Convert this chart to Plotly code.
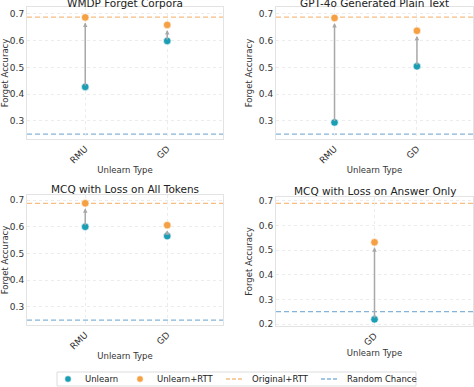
import plotly.graph_objects as go

# ---- data ----
titles = ["WMDP Forget Corpora", "GPT-4o Generated Plain Text",
          "MCQ with Loss on All Tokens", "MCQ with Loss on Answer Only"]
cats_1 = ["RMU", "GD"]
cats_2 = ["RMU", "GD"]
cats_3 = ["RMU", "GD"]
cats_4 = ["GD"]
unlearn_1 = [0.427, 0.599]
rtt_1 = [0.687, 0.659]
unlearn_2 = [0.294, 0.504]
rtt_2 = [0.685, 0.637]
unlearn_3 = [0.600, 0.565]
rtt_3 = [0.688, 0.606]
unlearn_4 = [0.219]
rtt_4 = [0.532]
original_rtt = [0.688, 0.688, 0.688, 0.690]
random_chance = [0.25, 0.25, 0.25, 0.25]
yticks_top = [0.3, 0.4, 0.5, 0.6, 0.7]
yticks_4 = [0.2, 0.3, 0.4, 0.5, 0.6, 0.7]
legend_names = ["Unlearn", "Unlearn+RTT", "Original+RTT", "Random Chance"]

TEAL = "#1b9db3"
ORANGE = "#f5a043"
ORANGE_LINE = "#f8bd84"
BLUE_LINE = "#85b4d8"
FONT = "DejaVu Sans"
DASH = "5px,3px"

W, H = 474, 387
def px_x(a, b):
    return [a / W, b / W]
def px_y(top, bot):
    return [1 - bot / H, 1 - top / H]

panels = [
    dict(cats=cats_1, u=unlearn_1, r=rtt_1, xd=px_x(27, 223), yd=px_y(7, 139),
         xr=[-0.71, 1.68], yr=[0.232, 0.726], yt=yticks_top, tshift=-4),
    dict(cats=cats_2, u=unlearn_2, r=rtt_2, xd=px_x(276, 473), yd=px_y(7, 139),
         xr=[-0.71, 1.68], yr=[0.232, 0.726], yt=yticks_top, tshift=-4),
    dict(cats=cats_3, u=unlearn_3, r=rtt_3, xd=px_x(27, 223), yd=px_y(195, 325),
         xr=[-0.71, 1.68], yr=[0.232, 0.719], yt=yticks_top, tshift=-2),
    dict(cats=cats_4, u=unlearn_4, r=rtt_4, xd=px_x(276, 473), yd=px_y(197, 326),
         xr=[-1.0, 1.0], yr=[0.192, 0.716], yt=yticks_4, tshift=-2),
]

fig = go.Figure()
annotations = []
shapes = []
for i, p in enumerate(panels):
    n = i + 1
    xa = "x" if n == 1 else f"x{n}"
    ya = "y" if n == 1 else f"y{n}"
    xs = list(range(len(p["cats"])))
    shapes.append(dict(type="line", xref=f"{xa} domain", yref=ya, x0=0, x1=1,
                       y0=original_rtt[i], y1=original_rtt[i],
                       line=dict(color=ORANGE_LINE, width=1.3, dash=DASH), layer="below"))
    shapes.append(dict(type="line", xref=f"{xa} domain", yref=ya, x0=0, x1=1,
                       y0=random_chance[i], y1=random_chance[i],
                       line=dict(color=BLUE_LINE, width=1.3, dash=DASH), layer="below"))
    for xv, u, r in zip(xs, p["u"], p["r"]):
        annotations.append(dict(x=xv, y=r, ax=xv, ay=u, xref=xa, yref=ya, axref=xa, ayref=ya,
                                showarrow=True, arrowhead=2, arrowsize=0.6, arrowwidth=1.5,
                                arrowcolor="#a8a8a8", standoff=5, startstandoff=0, text=""))
    fig.add_trace(go.Scatter(x=xs, y=p["u"], mode="markers", xaxis=xa, yaxis=ya,
                             marker=dict(color=TEAL, size=7.5, line=dict(color="white", width=0.6)),
                             name="Unlearn", showlegend=False))
    fig.add_trace(go.Scatter(x=xs, y=p["r"], mode="markers", xaxis=xa, yaxis=ya,
                             marker=dict(color=ORANGE, size=7.5, line=dict(color="white", width=0.6)),
                             name="Unlearn+RTT", showlegend=False))
    axkw = dict(showline=True, linecolor="#e3e3e3", linewidth=1, mirror=True,
                showgrid=True, gridcolor="#ececec", griddash="dot", gridwidth=1,
                zeroline=False, ticks="", automargin=False,
                tickfont=dict(family=FONT, size=9, color="#333"))
    fig.layout[f"xaxis{'' if n == 1 else n}"] = dict(
        domain=p["xd"], anchor=ya, range=p["xr"], tickvals=xs, ticktext=p["cats"],
        tickangle=-45, title=dict(text="Unlearn Type", font=dict(family=FONT, size=8.5, color="#333"), standoff=2),
        **axkw)
    fig.layout[f"yaxis{'' if n == 1 else n}"] = dict(
        domain=p["yd"], anchor=xa, range=p["yr"], tickvals=p["yt"],
        ticktext=[f"{v:.1f}" for v in p["yt"]],
        title=dict(text="Forget Accuracy", font=dict(family=FONT, size=8.5, color="#333"), standoff=4),
        **axkw)
    annotations.append(dict(x=(p["xd"][0] + p["xd"][1]) / 2, y=p["yd"][1], xref="paper", yref="paper",
                            text=titles[i], showarrow=False, xanchor="center", yanchor="bottom",
                            yshift=p["tshift"], font=dict(family=FONT, size=10.5, color="#222")))

# ---- legend (drawn in paper coordinates) ----
ly = 1 - 379 / H
shapes.append(dict(type="rect", xref="paper", yref="paper",
                   x0=57 / W, x1=416 / W, y0=1 - 386 / H, y1=1 - 372 / H,
                   line=dict(color="#dddddd", width=1), fillcolor="white", layer="below"))
for cx, col in [(68, TEAL), (140, ORANGE)]:
    shapes.append(dict(type="circle", xref="paper", yref="paper",
                       x0=(cx - 3.2) / W, x1=(cx + 3.2) / W, y0=ly - 3.2 / H, y1=ly + 3.2 / H,
                       fillcolor=col, line=dict(color="white", width=0.5)))
for x0, x1, col in [(226, 243, ORANGE_LINE), (321, 338, BLUE_LINE)]:
    shapes.append(dict(type="line", xref="paper", yref="paper", x0=x0 / W, x1=x1 / W, y0=ly, y1=ly,
                       line=dict(color=col, width=1.3, dash="4px,2px")))
for tx, name in zip([83, 155, 250, 345], legend_names):
    annotations.append(dict(x=tx / W, y=ly, xref="paper", yref="paper", text=name, showarrow=False,
                            xanchor="left", yanchor="middle",
                            font=dict(family=FONT, size=8.5, color="#222")))

fig.update_layout(
    width=W, height=H, margin=dict(l=0, r=0, t=0, b=0, autoexpand=False),
    paper_bgcolor="white", plot_bgcolor="white",
    font=dict(family=FONT, size=9, color="#333"),
    annotations=annotations, shapes=shapes, showlegend=False,
)
fig.write_html("out.html", config={"displayModeBar": False},
               post_script="document.body.style.margin='0';document.body.style.padding='0';")
